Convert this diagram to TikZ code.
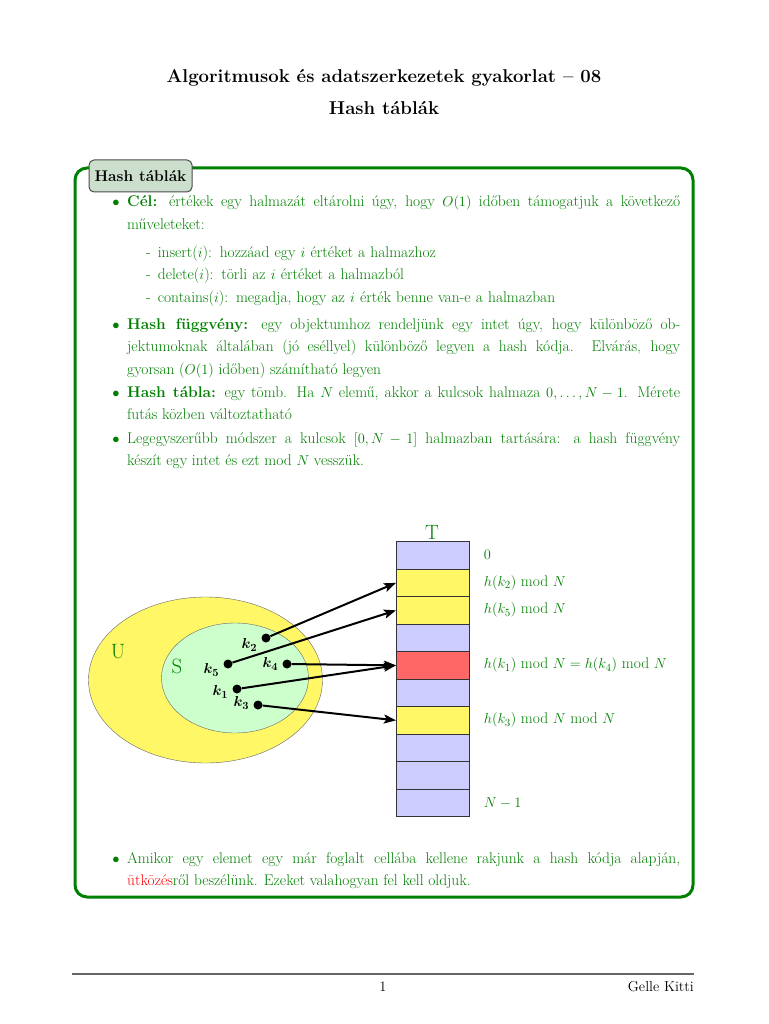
\documentclass[tikz,border=0pt]{standalone}
\usepackage{fontspec}
\usepackage{amsmath}
\usetikzlibrary{arrows.meta,positioning,shapes.geometric}

\definecolor{hgreen}{rgb}{0,0.5,0}
\definecolor{tabfill}{rgb}{0.8,0.87,0.8}
\newcommand{\bodysize}{\fontsize{15.47}{22.6}\selectfont}
\newcommand{\titlesize}{\fontsize{18.56}{22}\selectfont}
\newcommand{\footsize}{\fontsize{14.4}{17}\selectfont}
\newcommand{\setsize}{\fontsize{20.7}{24}\selectfont}

\begin{document}
\begin{tikzpicture}[x=1pt,y=-1pt,
  body/.style={anchor=base west, inner sep=0pt, text width=553pt, align=justify, font=\bodysize, text=hgreen},
  bul/.style={anchor=base, inner sep=0pt, font=\bodysize, text=hgreen},
  cell/.style={draw=black!80, line width=1.2pt, minimum width=72.5pt, minimum height=27.5pt, inner sep=0pt, anchor=north west},
  idx/.style={anchor=west, inner sep=0pt, font=\bodysize, text=hgreen},
  dot/.style={circle, fill=black, inner sep=0pt, minimum size=9pt},
  key/.style={inner sep=1pt, font=\bodysize, text=black},
  setname/.style={inner sep=0pt, font=\setsize, text=hgreen},
  arrow/.style={-{Stealth[length=12pt,width=9pt,inset=2.5pt]}, line width=2pt}
]
\fill[white] (0,0) rectangle (768,1024);

% title
\node[anchor=base, font=\bfseries\titlesize] (title) at (384,83) {Algoritmusok és adatszerkezetek gyakorlat – 08};
\node[anchor=base, font=\bfseries\titlesize] (subtitle) at (384,115) {Hash táblák};

% frame
\draw[hgreen, line width=3pt, rounded corners=12pt] (75,168) rectangle (693,897);
\node[draw=black!70, fill=tabfill, line width=1pt, rounded corners=5pt, minimum width=103pt, minimum height=32pt, inner sep=0pt, font=\bfseries\bodysize] (tab) at (140.5,176) {Hash táblák};

% items
\node[bul] (b1) at (116,207) {$\bullet$};
\node[body] (cel) at (127,207) {\textbf{Cél:} értékek egy halmazát eltárolni úgy, hogy $O(1)$ időben támogatjuk a következő\linebreak műveleteket:};
\node[body, text width=520pt, align=left] (ops) at (146,257) {-\hspace{7pt}insert($i$): hozzáad egy $i$ értéket a halmazhoz\\
-\hspace{7pt}delete($i$): törli az $i$ értéket a halmazból\\
-\hspace{7pt}contains($i$): megadja, hogy az $i$ érték benne van-e a halmazban};

\node[bul] (b2) at (116,329) {$\bullet$};
\node[body] (fv) at (127,329) {\textbf{Hash függvény:} egy objektumhoz rendeljünk egy intet úgy, hogy különböző ob-\linebreak jektumoknak általában (jó eséllyel) különböző legyen a hash kódja. Elvárás, hogy\linebreak gyorsan ($O(1)$ időben) számítható legyen};

\node[bul] (b3) at (116,397) {$\bullet$};
\node[body] (tabla) at (127,397) {\textbf{Hash tábla:} egy tömb. Ha $N$ elemű, akkor a kulcsok halmaza $0,\ldots,N-1$. Mérete\linebreak futás közben változtatható};

\node[bul] (b4) at (116,443) {$\bullet$};
\node[body] (mod) at (127,443) {Legegyszerűbb módszer a kulcsok $[0,N-1]$ halmazban tartására: a hash függvény\linebreak készít egy intet és ezt mod $N$ vesszük.};

% sets
\node[ellipse, draw=black!60, fill=yellow!60, minimum width=234pt, minimum height=166pt, inner sep=0pt] (setU) at (205.5,680) {};
\node[ellipse, draw=black!60, fill=green!20, minimum width=147pt, minimum height=110pt, inner sep=0pt] (setS) at (235,678) {};
\node[setname] (nameU) at (118,652) {U};
\node[setname] (nameS) at (177,666) {S};

% table
\foreach \c [count=\i from 0] in {blue!20,yellow!60,yellow!60,blue!20,red!60,blue!20,yellow!60,blue!20,blue!20,blue!20}
  \node[cell, fill=\c] (c\i) at (396,541+27.5*\i) {};
\node[setname] (nameT) at (432,532) {T};
\node[idx] (l0) at ([xshift=14pt]c0.east) {$0$};
\node[idx] (l1) at ([xshift=14pt]c1.east) {$h(k_2)$ mod $N$};
\node[idx] (l2) at ([xshift=14pt]c2.east) {$h(k_5)$ mod $N$};
\node[idx] (l4) at ([xshift=14pt]c4.east) {$h(k_1)$ mod $N=h(k_4)$ mod $N$};
\node[idx] (l6) at ([xshift=14pt]c6.east) {$h(k_3)$ mod $N$ mod $N$};
\node[idx] (l9) at ([xshift=14pt]c9.east) {$N-1$};

% keys
\node[dot, label={[key, yshift=-7pt, label distance=3pt]left:$\boldsymbol{k_2}$}] (k2) at (266,638) {};
\node[dot, label={[key, yshift=-6pt, label distance=3pt]left:$\boldsymbol{k_5}$}] (k5) at (228,664) {};
\node[dot, label={[key, label distance=3pt]left:$\boldsymbol{k_4}$}] (k4) at (287,664) {};
\node[dot, label={[key, yshift=-3pt, label distance=3pt]left:$\boldsymbol{k_1}$}] (k1) at (237,689) {};
\node[dot, label={[key, yshift=2pt, label distance=3pt]left:$\boldsymbol{k_3}$}] (k3) at (258,705) {};

\draw[arrow] (k2) -- (c1.west);
\draw[arrow] (k5) -- (c2.west);
\draw[arrow] (k4) -- (c4.west);
\draw[arrow] (k1) -- (c4.west);
\draw[arrow] (k3) -- (c6.west);

% last item
\node[bul] (b5) at (116,863) {$\bullet$};
\node[body] (utk) at (127,863) {Amikor egy elemet egy már foglalt cellába kellene rakjunk a hash kódja alapján,\linebreak \textcolor{red}{ütközés}ről beszélünk. Ezeket valahogyan fel kell oldjuk.};

% footer
\draw[black!60, line width=2pt] (72,974) -- (694,974);
\node[anchor=base, inner sep=0pt, font=\footsize] (page) at (383,991) {1};
\node[anchor=base east, inner sep=0pt, font=\footsize] (author) at (694,991) {Gelle Kitti};
\end{tikzpicture}
\end{document}
